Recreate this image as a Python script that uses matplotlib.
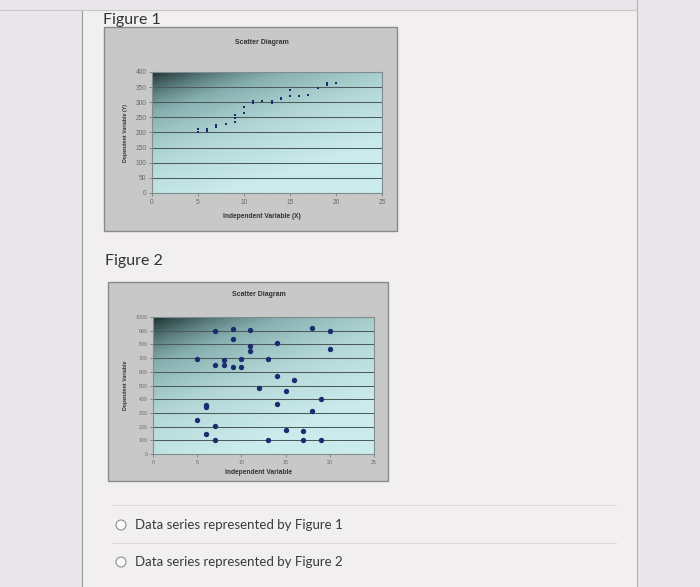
import numpy as np
import matplotlib.pyplot as plt
from matplotlib.patches import Rectangle, Circle
from matplotlib.colors import LinearSegmentedColormap

# Figure 1 data
x1 = [5, 5, 6, 6, 7, 7, 8, 9, 9, 9, 10, 10, 11, 11, 12, 13, 13,
      14, 14, 15, 15, 16, 17, 18, 19, 19, 20]
y1 = [213, 203, 213, 206, 225, 217, 228, 258, 247, 236, 285, 266, 303, 296,
      305, 303, 298, 315, 310, 342, 320, 322, 324, 348, 364, 356, 365]

# Figure 2 data
x2 = [5, 5, 6, 6, 6, 7, 7, 7, 7, 8, 8, 9, 9, 9, 10, 10, 11, 11, 11, 12,
      13, 13, 14, 14, 14, 15, 15, 16, 17, 17, 18, 18, 19, 19, 20, 20]
y2 = [690, 248, 357, 345, 143, 896, 646, 204, 102, 684, 646, 910, 840, 638,
      694, 636, 905, 789, 755, 485, 694, 102, 811, 570, 362, 459, 177, 541,
      170, 102, 917, 313, 400, 104, 898, 765]

x_ticks = [0, 5, 10, 15, 20, 25]
y1_ticks = list(range(0, 401, 50))
y2_ticks = list(range(0, 1001, 100))

W, H = 700, 587
fig = plt.figure(figsize=(W / 100, H / 100), dpi=100)
fig.patch.set_facecolor('#e9e6ea')


def box(l, t, r, b):
    return [l / W, 1 - b / H, (r - l) / W, (b - t) / H]


# page background
bg = fig.add_axes([0, 0, 1, 1])
bg.set_xlim(0, W)
bg.set_ylim(H, 0)
bg.axis('off')
bg.add_patch(Rectangle((82, 10), 555, 580, facecolor='#f2eff1', edgecolor='none'))
bg.plot([82, 82], [10, H], color='#9a9a9e', lw=0.8)
bg.plot([637, 637], [0, H], color='#b0b0b4', lw=0.8)
bg.plot([0, 637], [10, 10], color='#c8c6ca', lw=0.8)

bg.text(103, 20, 'Figure 1', fontsize=11.5, family='Lato', color='#333333', va='center')
bg.text(105, 261, 'Figure 2', fontsize=11.5, family='Lato', color='#333333', va='center')

# chart panels
bg.add_patch(Rectangle((104, 27), 293, 204, facecolor='#c8c8c8', edgecolor='#8a8a8a', lw=1))
bg.add_patch(Rectangle((108, 282), 280, 199, facecolor='#c8c8c8', edgecolor='#8a8a8a', lw=1))

# answer options
for yy in [505, 543]:
    bg.plot([112, 616], [yy, yy], color='#dcdadc', lw=0.8)
for yy, lab in [(525, 'Data series represented by Figure 1'),
                (562, 'Data series represented by Figure 2')]:
    bg.add_patch(Circle((121, yy), 5, facecolor='#fbfbfb', edgecolor='#8e8e8e', lw=0.8))
    bg.text(135, yy, lab, fontsize=9.5, family='Lato', color='#3a3a3a', va='center')

cmap = LinearSegmentedColormap.from_list(
    'plot', ['#121818', '#3e5a5b', '#85aeae', '#b2d6d6', '#cbebec'])
gx, gy = np.meshgrid(np.linspace(0, 1, 200), np.linspace(0, 1, 200))
grad = np.clip((0.6 * gx + 1.0 * gy) / 1.2, 0, 1) ** 0.55


def chart(rect, xs, ys, yticks, ymax, title, xlabel, ylabel, tsize, marker, msize,
          title_y, xlabel_y, ylabel_x):
    ax = fig.add_axes(box(*rect))
    ax.imshow(grad, extent=[0, 25, 0, ymax], aspect='auto', cmap=cmap, zorder=0)
    for v in yticks[1:-1]:
        ax.axhline(v, color='#4b5b5b', lw=0.75, zorder=1)
    ax.scatter(xs, ys, s=msize, marker=marker, color='#1c2c70', zorder=3, linewidths=0)
    ax.set_xlim(0, 25)
    ax.set_ylim(0, ymax)
    ax.set_xticks(x_ticks)
    ax.set_yticks(yticks)
    ax.tick_params(labelsize=tsize, colors='#6a6a6a', length=2, width=0.5, pad=2)
    for lbl in ax.get_xticklabels() + ax.get_yticklabels():
        lbl.set_family('Liberation Sans')
    for s in ax.spines.values():
        s.set_color('#7f8d8d')
        s.set_linewidth(0.8)
    l, t, r, b = rect
    bg.text((l + r) / 2 - 5, title_y, title, fontsize=5, weight='bold',
            family='Liberation Sans', color='#333333', ha='center', va='center')
    bg.text((l + r) / 2 - 5, xlabel_y, xlabel, fontsize=4.8, weight='bold',
            family='Liberation Sans', color='#333333', ha='center', va='center')
    bg.text(ylabel_x, (t + b) / 2, ylabel, fontsize=3.8, weight='bold', rotation=90,
            family='Liberation Sans', color='#333333', ha='center', va='center')
    return ax


chart((152, 72, 382, 193), x1, y1, y1_ticks, 400, 'Scatter Diagram',
      'Independent Variable (X)', 'Dependent Variable (Y)', 4.8, 's', 3.5,
      43, 217, 125)
chart((153, 317, 374, 454), x2, y2, y2_ticks, 1000, 'Scatter Diagram',
      'Independent Variable', 'Dependent Variable', 3.8, 'o', 15,
      295, 472, 125)

fig.savefig('out.png', dpi=100, facecolor=fig.get_facecolor())
